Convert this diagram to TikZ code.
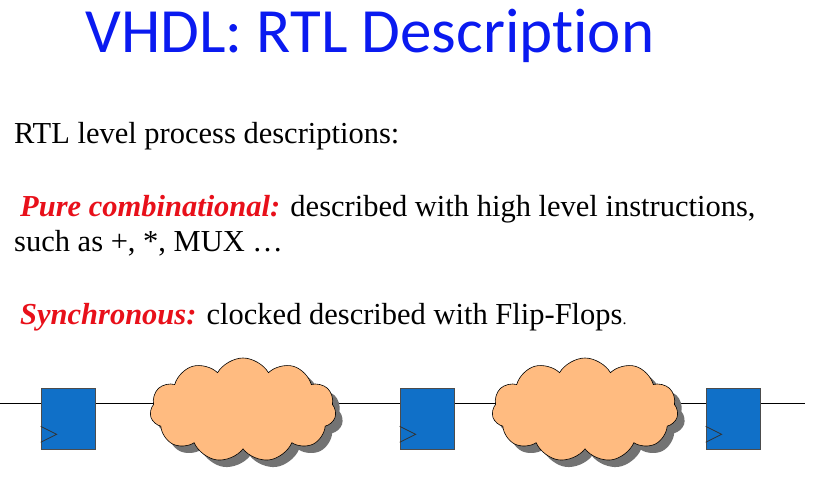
\documentclass[tikz,border=0pt]{standalone}
\usepackage{fontspec}
\setmainfont{Liberation Serif}
\newfontfamily\titlefont[Ligatures=NoCommon]{Carlito}
\usetikzlibrary{shapes.symbols,shadows}
\definecolor{ffblue}{HTML}{1070C8}
\definecolor{cloudc}{HTML}{FFBB80}
\definecolor{titleblue}{HTML}{0A1AF0}
\definecolor{redt}{HTML}{E8101A}
\begin{document}
\begin{tikzpicture}[x=1pt,y=-1pt,
  ff/.style={draw=gray!60!black,fill=ffblue,minimum width=54pt,minimum height=61pt,inner sep=0,line width=0.6pt},
  blob/.style={cloud,cloud puffs=11,cloud puff arc=120,aspect=1.8,draw=black,fill=cloudc,minimum width=186pt,minimum height=104pt,drop shadow={shadow xshift=7pt,shadow yshift=-7pt,fill=black!55,opacity=1},line width=0.6pt},
  txt/.style={anchor=base west,inner sep=0,font=\fontsize{30.5}{36}\selectfont}]
\useasboundingbox (0,0) rectangle (819,482);
\node[font=\titlefont\fontsize{63}{70}\selectfont,text=titleblue,anchor=base] (title) at (370,52) {VHDL: RTL Description};
\node[txt] (t1) at (14,143) {RTL level process descriptions:};
\node[txt] (t2) at (20,216) {\textcolor{redt}{\bfseries\itshape Pure combinational:} described with high level instructions,};
\node[txt] (t3) at (14,251) {such as +, *, MUX \dots};
\node[txt] (t4) at (20,324) {\textcolor{redt}{\bfseries\itshape Synchronous:} clocked described with Flip-Flops{\fontsize{16}{18}\selectfont.}};
\coordinate (l0) at (0,403);
\coordinate (l1) at (805,403);
\draw[line width=0.6pt] (l0) -- (l1);
\node[blob] (c1) at (243,410) {};
\node[blob] (c2) at (585,410) {};
\foreach \n/\x in {f1/68,f2/427,f3/733}{
  \node[ff] (\n) at (\x,418.5) {};
  \draw[line width=0.8pt,black!80] ([yshift=23pt]\n.south west) -- ++(16,8) -- ++(-16,8);
}
\end{tikzpicture}
\end{document}
